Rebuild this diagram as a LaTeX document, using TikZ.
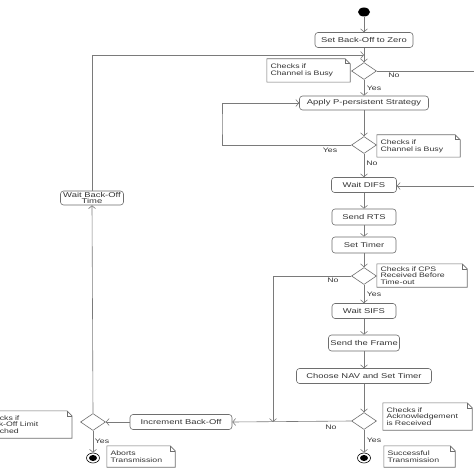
\documentclass[tikz,border=0pt]{standalone}
\usepackage{fontspec}
\setmainfont{Liberation Sans}[FakeStretch=1.35]
\usetikzlibrary{shapes.geometric,arrows.meta}
\definecolor{linec}{HTML}{7A7A7A}
\definecolor{boxc}{HTML}{6E6E6E}
\definecolor{txt}{HTML}{333333}
\tikzset{
  act/.style={draw=boxc, line width=0.6bp, rounded corners=3bp, minimum height=15bp, inner sep=1bp,
    font=\fontsize{7}{6.8}\selectfont, text=txt, align=center},
  dec/.style={draw=boxc, line width=0.6bp, shape=diamond, minimum width=25bp, minimum height=17bp, inner sep=0pt},
  note/.style={inner xsep=3.5bp, inner ysep=0pt, font=\fontsize{6.5}{6.8}\selectfont, text=txt, align=left},
  notebd/.style={draw=boxc, line width=0.6bp},
  lbl/.style={font=\fontsize{6.5}{7}\selectfont, text=txt, inner sep=0pt},
  arr/.style={draw=linec, line width=0.6bp, -{Straight Barb[length=3bp,width=7bp]}},
  ln/.style={draw=linec, line width=0.6bp},
  startdot/.style={shape=ellipse, fill=black, minimum width=12bp, minimum height=9bp, inner sep=0pt},
  endring/.style={shape=ellipse, draw=black, line width=0.6bp, minimum width=13bp, minimum height=10bp, inner sep=0pt},
  enddot/.style={shape=ellipse, fill=black, minimum width=8bp, minimum height=6bp, inner sep=0pt}
}
\newcommand\notebox[1]{%
  \draw[notebd] (#1.north west) -- ([xshift=-5bp]#1.north east) -- ([yshift=-5bp]#1.north east) -- (#1.south east) -- (#1.south west) -- cycle;
  \draw[notebd] ([xshift=-5bp]#1.north east) |- ([yshift=-5bp]#1.north east);}
\begin{document}
\begin{tikzpicture}[x=1bp,y=-1bp]
\useasboundingbox (0,0) rectangle (474,474);
\fill[white] (0,0) rectangle (474,474);
% main column
\node[startdot] (start) at (364,12) {};
\node[act, minimum width=98bp] (sbz) at (364,40) {Set Back-Off to Zero};
\node[dec] (d1) at (364,71) {};
\coordinate (j1) at (364,55);
\node[act, minimum width=129bp, minimum height=14bp] (apply) at (364,103) {Apply P-persistent Strategy};
\node[dec] (d2) at (364,145) {};
\node[act, minimum width=65bp] (wdifs) at (364,185) {Wait DIFS};
\node[act, minimum width=64bp, minimum height=16bp] (srts) at (364,217) {Send RTS};
\node[act, minimum width=64bp, minimum height=16bp] (stimer) at (364,245) {Set Timer};
\node[dec] (d3) at (364,276) {};
\node[act, minimum width=64bp] (wsifs) at (364,311) {Wait SIFS};
\node[act, minimum width=71bp, minimum height=16bp] (sframe) at (364,343) {Send the Frame};
\node[act, minimum width=135bp] (nav) at (364,376) {Choose NAV and Set Timer};
\node[dec] (d4) at (364,421) {};
\node[endring] (end1) at (364,458) {};
\node[enddot] at (end1) {};
% left side
\node[act, minimum width=102bp] (inc) at (181,422) {Increment Back-Off};
\node[dec] (d5) at (93,422) {};
\node[endring] (end2) at (93,458) {};
\node[enddot] at (end2) {};
\node[act, minimum width=63bp, minimum height=14bp, inner sep=0.5bp, font=\fontsize{7}{6.3}\selectfont] (wbt) at (92,198) {Wait Back-Off\\Time};
% notes
\node[note, text width=76bp, minimum height=23bp] (n1) at (308.5,70.5) {Checks if\\Channel is Busy};
\notebox{n1}
\node[note, text width=76bp, minimum height=22bp] (n2) at (418.5,146) {Checks if\\Channel is Busy};
\notebox{n2}
\node[note, text width=83bp, minimum height=23bp] (n3) at (422,275.5) {Checks if CPS\\Received Before\\Time-out};
\notebox{n3}
\node[note, text width=82bp, minimum height=27bp] (n4) at (427.5,416.5) {Checks if\\Acknowledgement\\is Received};
\notebox{n4}
\node[note, text width=84.5bp, minimum height=27bp] (n5) at (26,424.5) {Checks if\\Back-Off Limit\\Reached};
\notebox{n5}
\node[note, text width=61bp, minimum height=21bp] (n6) at (141,456.5) {Aborts\\Transmission};
\notebox{n6}
\node[note, text width=64bp, minimum height=21bp] (n7) at (419.5,456.5) {Successful\\Transmission};
\notebox{n7}
% free ends
\coordinate (r1) at (480,71);
\coordinate (r2) at (480,186);
\coordinate (l2) at (222,124);
\coordinate (m3) at (273,422);
% connectors
\draw[arr] (start) -- (sbz);
\draw[arr] (sbz) -- (d1);
\draw[arr] (wbt.north) |- (j1);
\draw[arr] (d1) -- (apply);
\draw[ln] (d1.east) -- (r1);
\draw[arr] (apply) -- (d2);
\draw[arr] (d2.west) -| (l2) |- (apply.west);
\draw[arr] (d2) -- (wdifs);
\draw[arr] (r2) -- (wdifs.east |- r2);
\draw[arr] (wdifs) -- (srts);
\draw[arr] (srts) -- (stimer);
\draw[arr] (stimer) -- (d3);
\draw[arr] (d3.west) -| (m3);
\draw[arr] (d3) -- (wsifs);
\draw[arr] (wsifs) -- (sframe);
\draw[arr] (sframe) -- (nav);
\draw[arr] (nav) -- (d4);
\draw[arr] (d4.west) -- (inc.east);
\draw[arr] (inc.west) -- (d5.east);
\draw[arr] (d5.north) -- (wbt.south);
\draw[arr] (d5.south) -- (end2);
\draw[arr] (d4.south) -- (end1);
% labels
\node[lbl] at (394,75.5) {No};
\node[lbl] at (374,88) {Yes};
\node[lbl] at (330,150) {Yes};
\node[lbl] at (372,163) {No};
\node[lbl] at (333,280) {No};
\node[lbl] at (374,294) {Yes};
\node[lbl] at (331,427) {No};
\node[lbl] at (374,440) {Yes};
\node[lbl] at (102,441) {Yes};
\end{tikzpicture}
\end{document}
